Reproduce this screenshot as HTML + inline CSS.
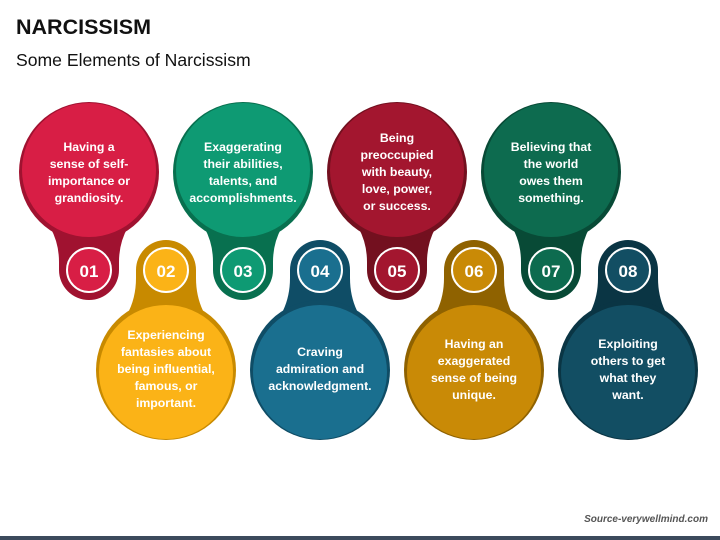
<!DOCTYPE html>
<html><head><meta charset="utf-8"><style>
body{margin:0;width:720px;height:540px;background:#fff;overflow:hidden;position:relative;font-family:"Liberation Sans",sans-serif}
.t{position:absolute;left:16px;top:15px;font-size:21.5px;font-weight:bold;color:#111}
.s{position:absolute;left:16px;top:50px;font-size:17.6px;color:#111}
.src{position:absolute;right:12px;top:514px;font-size:10px;font-style:italic;font-weight:bold;color:#555}
.bar{position:absolute;left:0;top:536px;width:720px;height:4px;background:#3c4a5c}
</style></head><body>
<div class="t">NARCISSISM</div>
<div class="s">Some Elements of Narcissism</div>
<svg width="720" height="540" style="position:absolute;left:0;top:0" font-family="Liberation Sans, sans-serif" font-weight="bold" font-size="12.3" fill="#fff" text-anchor="middle">
<defs>
<g id="up">
<path d="M-58,205 Q-30,228 -30,262 L-30,270 A30 30 0 0 0 30,270 L30,262 Q30,228 58,205 Z"/>
<circle cx="0" cy="172" r="70"/>
</g>
<g id="dn">
<path d="M-58,337 Q-30,314 -30,278 L-30,270 A30 30 0 0 1 30,270 L30,278 Q30,314 58,337 Z"/>
<circle cx="0" cy="370" r="70"/>
</g>
</defs>
<g transform="translate(89,0)"><use href="#up" fill="#a01230"/><circle cx="0" cy="170" r="67" fill="#d81e45"/><circle cx="0" cy="270" r="22" fill="#d81e45" stroke="#fff" stroke-width="2"/>
<text y="277" font-size="17">01</text><text y="151">Having a</text><text y="168">sense of self-</text><text y="185">importance or</text><text y="202">grandiosity.</text></g>
<g transform="translate(243,0)"><use href="#up" fill="#08704f"/><circle cx="0" cy="170" r="67" fill="#0e9a73"/><circle cx="0" cy="270" r="22" fill="#0e9a73" stroke="#fff" stroke-width="2"/>
<text y="277" font-size="17">03</text><text y="151">Exaggerating</text><text y="168">their abilities,</text><text y="185">talents, and</text><text y="202">accomplishments.</text></g>
<g transform="translate(397,0)"><use href="#up" fill="#73101f"/><circle cx="0" cy="170" r="67" fill="#a3162f"/><circle cx="0" cy="270" r="22" fill="#a3162f" stroke="#fff" stroke-width="2"/>
<text y="277" font-size="17">05</text><text y="142">Being</text><text y="159">preoccupied</text><text y="176">with beauty,</text><text y="193">love, power,</text><text y="210">or success.</text></g>
<g transform="translate(551,0)"><use href="#up" fill="#084a36"/><circle cx="0" cy="170" r="67" fill="#0d6b4f"/><circle cx="0" cy="270" r="22" fill="#0d6b4f" stroke="#fff" stroke-width="2"/>
<text y="277" font-size="17">07</text><text y="151">Believing that</text><text y="168">the world</text><text y="185">owes them</text><text y="202">something.</text></g>
<g transform="translate(166,0)"><use href="#dn" fill="#c88a00"/><circle cx="0" cy="372" r="67" fill="#fbb317"/><circle cx="0" cy="270" r="22" fill="#fbb317" stroke="#fff" stroke-width="2"/>
<text y="277" font-size="17">02</text><text y="339">Experiencing</text><text y="356">fantasies about</text><text y="373">being influential,</text><text y="390">famous, or</text><text y="407">important.</text></g>
<g transform="translate(320,0)"><use href="#dn" fill="#0f4d66"/><circle cx="0" cy="372" r="67" fill="#1a6f8f"/><circle cx="0" cy="270" r="22" fill="#1a6f8f" stroke="#fff" stroke-width="2"/>
<text y="277" font-size="17">04</text><text y="356">Craving</text><text y="373">admiration and</text><text y="390">acknowledgment.</text></g>
<g transform="translate(474,0)"><use href="#dn" fill="#8f6200"/><circle cx="0" cy="372" r="67" fill="#c98a06"/><circle cx="0" cy="270" r="22" fill="#c98a06" stroke="#fff" stroke-width="2"/>
<text y="277" font-size="17">06</text><text y="348">Having an</text><text y="365">exaggerated</text><text y="382">sense of being</text><text y="399">unique.</text></g>
<g transform="translate(628,0)"><use href="#dn" fill="#0a3544"/><circle cx="0" cy="372" r="67" fill="#124e63"/><circle cx="0" cy="270" r="22" fill="#124e63" stroke="#fff" stroke-width="2"/>
<text y="277" font-size="17">08</text><text y="348">Exploiting</text><text y="365">others to get</text><text y="382">what they</text><text y="399">want.</text></g>
</svg>
<div class="src">Source-verywellmind.com</div>
<div class="bar"></div>
</body></html>
